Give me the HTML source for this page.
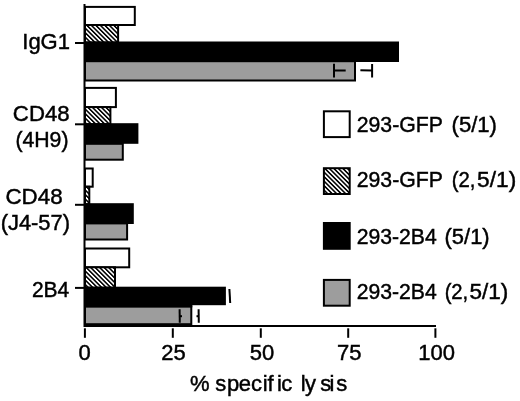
<!DOCTYPE html>
<html><head><meta charset="utf-8"><title>% specific lysis</title>
<style>
html,body{margin:0;padding:0;background:#fff;width:520px;height:401px;overflow:hidden}
svg{display:block}
text{font-family:"Liberation Sans", Arial, Helvetica, sans-serif;fill:#000;stroke:#000;stroke-width:0.45px}
</style></head><body>
<svg width="520" height="401" viewBox="0 0 520 401">
<defs>
<pattern id="hatch" patternUnits="userSpaceOnUse" x="1.4" y="0" width="3.18" height="3.18" patternTransform="rotate(-45)">
<rect x="0" y="0" width="3.18" height="3.18" fill="#fff"/>
<rect x="0" y="0" width="1.55" height="3.18" fill="#000"/>
</pattern>
<pattern id="hatch2" patternUnits="userSpaceOnUse" x="1.7" y="0" width="3.18" height="3.18" patternTransform="rotate(-45)">
<rect x="0" y="0" width="3.18" height="3.18" fill="#fff"/>
<rect x="0" y="0" width="1.55" height="3.18" fill="#000"/>
</pattern>
</defs>
<rect x="0" y="0" width="520" height="401" fill="#fff"/>

<rect x="85.00" y="6.90" width="49.80" height="18.10" fill="#fff" stroke="#000" stroke-width="2.0"/>
<rect x="85.00" y="25.00" width="33.10" height="17.50" fill="url(#hatch)" stroke="#000" stroke-width="2.0"/>
<rect x="84.00" y="41.50" width="315.00" height="20.50" fill="#000"/>
<rect x="85.00" y="61.20" width="270.00" height="19.30" fill="#9d9d9d" stroke="#000" stroke-width="2.0"/>
<rect x="85.00" y="87.90" width="30.90" height="19.20" fill="#fff" stroke="#000" stroke-width="2.0"/>
<rect x="85.00" y="107.10" width="25.40" height="17.10" fill="url(#hatch)" stroke="#000" stroke-width="2.0"/>
<rect x="84.00" y="123.20" width="54.40" height="20.60" fill="#000"/>
<rect x="85.00" y="143.80" width="37.80" height="15.90" fill="#9d9d9d" stroke="#000" stroke-width="2.0"/>
<rect x="85.00" y="168.50" width="7.70" height="18.20" fill="#fff" stroke="#000" stroke-width="2.0"/>
<rect x="85.00" y="186.70" width="4.30" height="17.50" fill="url(#hatch)" stroke="#000" stroke-width="2.0"/>
<rect x="84.00" y="203.20" width="49.80" height="20.80" fill="#000"/>
<rect x="85.00" y="223.40" width="42.10" height="16.10" fill="#9d9d9d" stroke="#000" stroke-width="2.0"/>
<rect x="85.00" y="248.50" width="44.20" height="18.80" fill="#fff" stroke="#000" stroke-width="2.0"/>
<rect x="85.00" y="267.30" width="30.00" height="20.40" fill="url(#hatch)" stroke="#000" stroke-width="2.0"/>
<rect x="84.00" y="286.70" width="141.90" height="18.50" fill="#000"/>
<rect x="85.00" y="306.40" width="106.30" height="17.80" fill="#9d9d9d" stroke="#000" stroke-width="2.0"/>
<rect x="84.00" y="304.70" width="108.30" height="2.70" fill="#000"/>
<line x1="334.0" y1="63.8" x2="334.0" y2="77.5" stroke="#000" stroke-width="2"/>
<line x1="334.0" y1="70.5" x2="345.7" y2="70.6" stroke="#000" stroke-width="2"/>
<line x1="372.1" y1="64.0" x2="372.1" y2="77.5" stroke="#000" stroke-width="2"/>
<line x1="360.4" y1="70.3" x2="372.1" y2="70.6" stroke="#000" stroke-width="2"/>
<line x1="229.4" y1="289" x2="230.2" y2="303" stroke="#000" stroke-width="2"/>
<line x1="179.6" y1="309.2" x2="179.8" y2="322.7" stroke="#000" stroke-width="2"/>
<line x1="179.6" y1="316.2" x2="182" y2="316.2" stroke="#000" stroke-width="2"/>
<line x1="198.6" y1="309.2" x2="198.8" y2="322.7" stroke="#000" stroke-width="2"/>
<line x1="196.5" y1="316.2" x2="198.6" y2="316.2" stroke="#000" stroke-width="2"/>
<line x1="84.5" y1="4" x2="84.5" y2="326.9" stroke="#000" stroke-width="2"/>
<line x1="84" y1="325.9" x2="436" y2="325.9" stroke="#000" stroke-width="2"/>
<line x1="84.9" y1="328.3" x2="84.9" y2="337.8" stroke="#000" stroke-width="2"/>
<line x1="172.8" y1="328.3" x2="172.8" y2="337.8" stroke="#000" stroke-width="2"/>
<line x1="260.8" y1="328.3" x2="260.8" y2="337.8" stroke="#000" stroke-width="2"/>
<line x1="348.2" y1="328.3" x2="348.2" y2="337.8" stroke="#000" stroke-width="2"/>
<line x1="435.4" y1="328.3" x2="435.4" y2="337.8" stroke="#000" stroke-width="2"/>
<line x1="75.0" y1="43.0" x2="84" y2="43.0" stroke="#000" stroke-width="2"/>
<line x1="75.0" y1="124.3" x2="84" y2="124.3" stroke="#000" stroke-width="2"/>
<line x1="75.0" y1="204.8" x2="84" y2="204.8" stroke="#000" stroke-width="2"/>
<line x1="75.0" y1="287.9" x2="84" y2="287.9" stroke="#000" stroke-width="2"/>
<text x="84.5" y="360" font-size="22" text-anchor="middle">0</text>
<text x="173.5" y="360" font-size="22" text-anchor="middle">25</text>
<text x="261.9" y="360" font-size="22" text-anchor="middle">50</text>
<text x="349.2" y="360" font-size="22" text-anchor="middle">75</text>
<text x="436.65" y="360" font-size="22" text-anchor="middle">100</text>
<text x="190.02 209.00 215.19 226.88 238.87 250.97 262.73 267.49 276.93 281.27 294.00 300.72 304.95 320.29 329.53 336.19" y="390.7" font-size="22">% specific lysis</text>
<text x="22.27" y="49.4" font-size="22">IgG1</text>
<text x="12.89" y="121.2" font-size="22" textLength="56.77" lengthAdjust="spacingAndGlyphs">CD48</text>
<text x="15.39" y="146.8" font-size="22" textLength="53.13" lengthAdjust="spacingAndGlyphs">(4H9)</text>
<text x="5.48" y="204.4" font-size="22" textLength="57.18" lengthAdjust="spacingAndGlyphs">CD48</text>
<text x="0.66" y="229.8" font-size="22" textLength="69.32" lengthAdjust="spacingAndGlyphs">(J4-57)</text>
<text x="31.95" y="296.7" font-size="22" textLength="37.34" lengthAdjust="spacingAndGlyphs">2B4</text>
<rect x="323.90" y="111.30" width="25.80" height="25.80" fill="#fff" stroke="#000" stroke-width="2.0"/>
<text x="356.73" y="132.2" font-size="22" textLength="86.15" lengthAdjust="spacingAndGlyphs">293-GFP</text>
<text x="451.55" y="132.2" font-size="22" textLength="45.41" lengthAdjust="spacingAndGlyphs">(5/1)</text>
<rect x="323.90" y="168.20" width="25.80" height="25.80" fill="url(#hatch2)" stroke="#000" stroke-width="2.0"/>
<text x="356.73" y="187.1" font-size="22" textLength="86.15" lengthAdjust="spacingAndGlyphs">293-GFP</text>
<text x="451.75" y="187.1" font-size="22" textLength="23.71" lengthAdjust="spacingAndGlyphs">(2,</text>
<text x="477.13" y="187.1" font-size="22" textLength="39.08" lengthAdjust="spacingAndGlyphs">5/1)</text>
<rect x="323.90" y="223.00" width="25.80" height="25.80" fill="#000" stroke="#000" stroke-width="2.0"/>
<text x="356.74" y="243.6" font-size="22" textLength="79.98" lengthAdjust="spacingAndGlyphs">293-2B4</text>
<text x="444.55" y="243.6" font-size="22" textLength="45.09" lengthAdjust="spacingAndGlyphs">(5/1)</text>
<rect x="323.90" y="279.90" width="25.80" height="25.80" fill="#9d9d9d" stroke="#000" stroke-width="2.0"/>
<text x="356.74" y="298.5" font-size="22" textLength="79.98" lengthAdjust="spacingAndGlyphs">293-2B4</text>
<text x="444.65" y="298.5" font-size="22" textLength="23.60" lengthAdjust="spacingAndGlyphs">(2,</text>
<text x="469.53" y="298.5" font-size="22" textLength="38.76" lengthAdjust="spacingAndGlyphs">5/1)</text>
</svg>
</body></html>
